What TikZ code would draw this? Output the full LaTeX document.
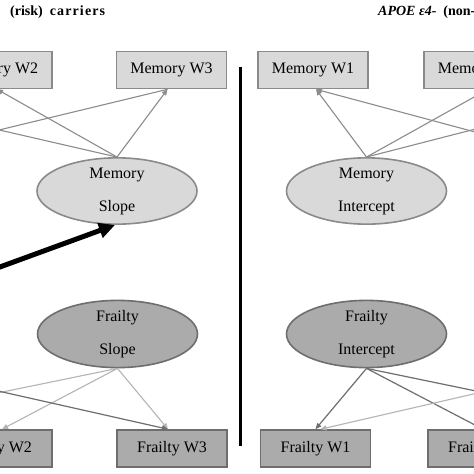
\documentclass[tikz,border=0pt]{standalone}
\usepackage{fontspec}
\setmainfont{Liberation Serif}
\usetikzlibrary{shapes.geometric,arrows.meta}
\definecolor{memfill}{HTML}{D9D9D9}
\definecolor{memdraw}{HTML}{8A8A8A}
\definecolor{frfill}{HTML}{ABABAB}
\definecolor{frdraw}{HTML}{6E6E6E}
\definecolor{toplink}{HTML}{8C8C8C}
\definecolor{darklink}{HTML}{6E6E6E}
\definecolor{lightlink}{HTML}{B4B4B4}
\tikzset{
  membox/.style={rectangle,draw=memdraw,fill=memfill,line width=1.6pt,minimum width=110pt,minimum height=37pt,inner sep=0pt,font=\fontsize{16}{18}\selectfont},
  frbox/.style={rectangle,draw=frdraw,fill=frfill,line width=1.6pt,minimum width=110pt,minimum height=37pt,inner sep=0pt,font=\fontsize{16}{18}\selectfont},
  memell/.style={ellipse,draw=memdraw,fill=memfill,line width=1.6pt,minimum width=160pt,minimum height=63pt,inner sep=0pt,align=center,font=\fontsize{16}{33}\selectfont},
  frell/.style={ellipse,draw=frdraw,fill=frfill,line width=1.6pt,minimum width=160pt,minimum height=63pt,inner sep=0pt,align=center,font=\fontsize{16}{33}\selectfont},
  toparr/.style={draw=toplink,line width=1.1pt,-{Triangle[length=6pt,width=5pt]}},
  topln/.style={draw=toplink,line width=1.1pt},
  darkarr/.style={draw=darklink,line width=1.2pt,-{Triangle[length=6pt,width=5pt]}},
  darkln/.style={draw=darklink,line width=1.2pt},
  lightarr/.style={draw=lightlink,line width=1.1pt,-{Triangle[length=6pt,width=5pt]}},
  lightln/.style={draw=lightlink,line width=1.1pt},
  titletext/.style={anchor=west,inner sep=0pt,font=\fontsize{14}{16}\selectfont\bfseries}
}
\begin{document}
\begin{tikzpicture}[x=1pt,y=-1pt]
\useasboundingbox (0,0) rectangle (474,474);
\clip (0,0) rectangle (474,474);
\fill[white] (0,0) rectangle (474,474);
% titles
\node[titletext] (tl) at (10,12) {(risk)\hspace{7pt}{\addfontfeatures{LetterSpace=8}carriers}};
\node[titletext] (tr) at (378,12) {\textit{APOE ε4-}\ \ (non-risk) carriers};
% divider
\coordinate (dtop) at (240,67);
\coordinate (dbot) at (240,446);
\draw[line width=3pt,black] (dtop) -- (dbot);
% top boxes
\node[membox] (mw2) at (-3,70) {Memory W2};
\node[membox] (mw3) at (171.5,70) {Memory W3};
\node[membox] (rmw1) at (313,70) {Memory W1};
\node[membox] (rmw2) at (479,70) {Memory W2};
% ellipses
\node[memell] (mslope) at (117,191) {Memory\\Slope};
\node[memell] (mint) at (366.5,191) {Memory\\Intercept};
\node[frell] (fslope) at (117.5,334) {Frailty\\Slope};
\node[frell] (fint) at (366.5,334) {Frailty\\Intercept};
% bottom boxes
\node[frbox] (fw2) at (-3,448.5) {Frailty W2};
\node[frbox] (fw3) at (172,448.5) {Frailty W3};
\node[frbox] (rfw1) at (315.5,448.5) {Frailty W1};
\node[frbox] (rfw2) at (483,448.5) {Frailty W2};
% off-picture ends
\coordinate (lmw1) at (-179,89);
\coordinate (lmint) at (-117,158);
\coordinate (rmslope) at (572,158);
\coordinate (rmw3) at (631,89);
\coordinate (lfw1) at (-178,429);
\coordinate (lfint) at (-113,366);
\coordinate (rfw3) at (660,429);
\coordinate (rfslope) at (595,366);
\coordinate (apoe) at (-200,340);
% top left links
\draw[toparr] (mslope.north) -- (mw2.south);
\draw[toparr] (mslope.north) -- ([xshift=-4pt]mw3.south);
\draw[topln] (mslope.north) -- (lmw1);
\draw[topln] (lmint) -- ([xshift=-4pt]mw3.south);
% top right links
\draw[toparr] (mint.north) -- ([xshift=3pt]rmw1.south);
\draw[toparr] (mint.north) -- ([xshift=9pt]rmw2.south);
\draw[topln] (mint.north) -- (rmw3);
\draw[toparr] (rmslope) -- ([xshift=3pt]rmw1.south);
% bottom left links
\draw[lightarr] (fslope.south) -- ([xshift=-4pt]fw3.north);
\draw[lightarr] (fslope.south) -- ([xshift=5pt]fw2.north);
\draw[lightln] (fslope.south) -- (lfw1);
\draw[darkarr] (lfint) -- ([xshift=-4pt]fw3.north);
% bottom right links
\draw[darkarr] (fint.south) -- ([xshift=0pt]rfw1.north);
\draw[darkln] (fint.south) -- (rfw3);
\draw[darkarr] (fint.south) -- (rfw2.north);
\draw[lightarr] (rfslope) -- ([xshift=5pt]rfw1.north);
% APOE effect
\draw[line width=5pt,black,-{Triangle[length=16pt,width=15pt]}] (apoe) -- ([xshift=-2pt]mslope.south);
\end{tikzpicture}
\end{document}
